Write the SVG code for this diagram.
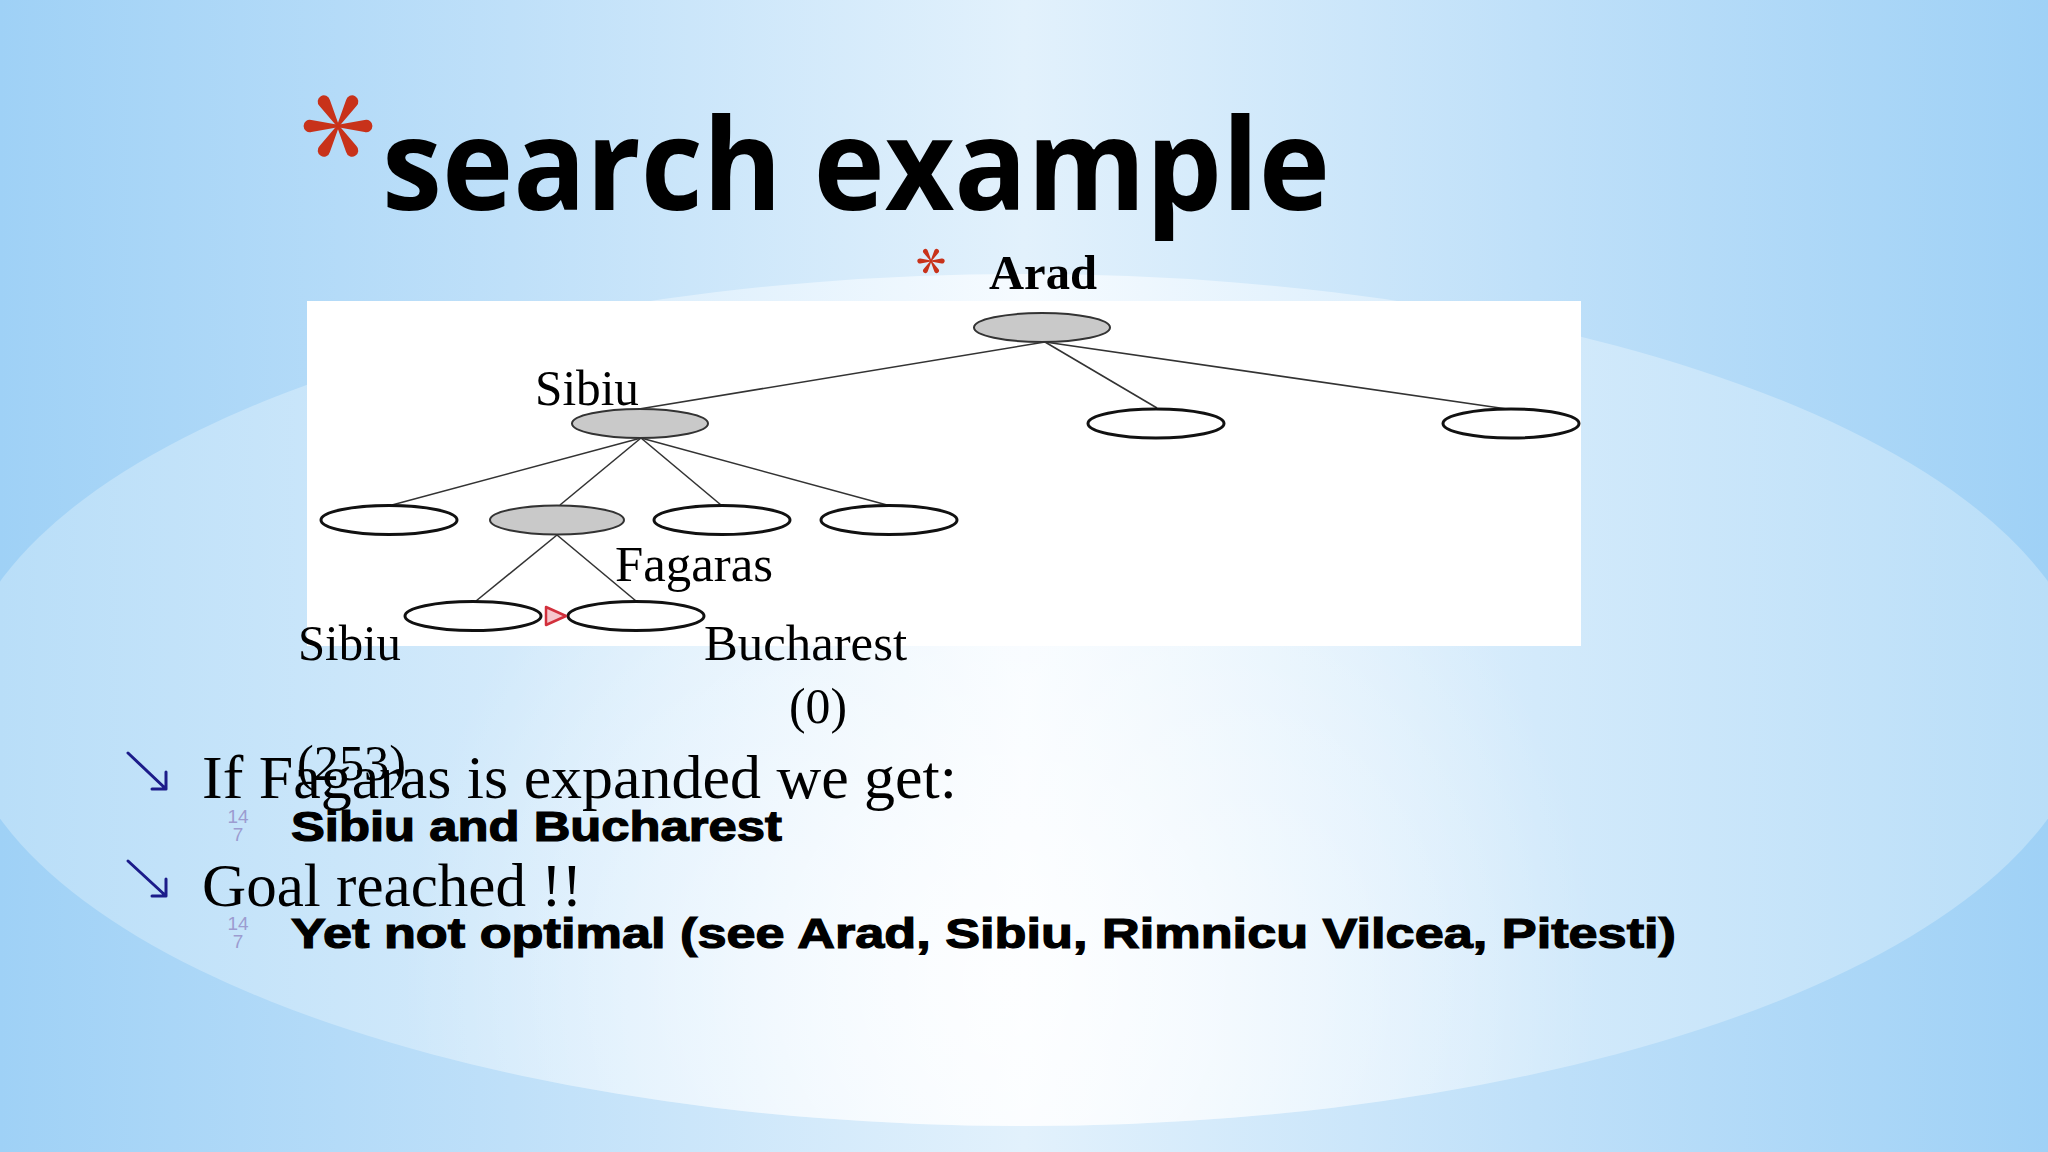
<svg xmlns="http://www.w3.org/2000/svg" width="2048" height="1152" viewBox="0 0 2048 1152">
  <defs>
    <linearGradient id="bg" x1="0" y1="0" x2="2048" y2="0" gradientUnits="userSpaceOnUse">
      <stop offset="0" stop-color="#9fd1f6"/>
      <stop offset="0.25" stop-color="#bfe0f9"/>
      <stop offset="0.5" stop-color="#e2f1fc"/>
      <stop offset="0.75" stop-color="#bfe0f9"/>
      <stop offset="1" stop-color="#9fd1f6"/>
    </linearGradient>
    <linearGradient id="oval" x1="0" y1="0" x2="2048" y2="0" gradientUnits="userSpaceOnUse">
      <stop offset="0" stop-color="#b9def8"/>
      <stop offset="0.25" stop-color="#d3eafb"/>
      <stop offset="0.5" stop-color="#f6fbff"/>
      <stop offset="0.75" stop-color="#d3eafb"/>
      <stop offset="1" stop-color="#b9def8"/>
    </linearGradient>
    <radialGradient id="glow" cx="1000" cy="980" r="600" gradientUnits="userSpaceOnUse">
      <stop offset="0" stop-color="#ffffff" stop-opacity="0.8"/>
      <stop offset="1" stop-color="#ffffff" stop-opacity="0"/>
    </radialGradient>
    <path id="arm" d="M0,-1 L23.5,-5.3 A5.5,5.5 0 1 1 23.5,5.3 L0,1 Z"/>
    <g id="star">
      <use href="#arm"/>
      <use href="#arm" transform="rotate(60)"/>
      <use href="#arm" transform="rotate(120)"/>
      <use href="#arm" transform="rotate(180)"/>
      <use href="#arm" transform="rotate(240)"/>
      <use href="#arm" transform="rotate(300)"/>
    </g>
    <style>
      .serif{font-family:"Liberation Serif","Times New Roman",serif;fill:#000}
      .bold{font-family:"Liberation Sans",Arial,sans-serif;font-weight:bold;fill:#000;stroke:#000;stroke-width:1.2}
      .num{font-family:"Liberation Sans",Arial,sans-serif;font-size:19px;fill:#9c9cd0;text-anchor:middle}
      .edge{stroke:#333;stroke-width:1.6;fill:none}
      .open{fill:#fff;stroke:#111;stroke-width:3}
      .shaded{fill:#c9c9c9;stroke:#333;stroke-width:2}
      .arrow{stroke:#1c1c8a;stroke-width:3;fill:none;stroke-linecap:round;stroke-linejoin:round}
      .red{fill:#c8321a}
    </style>
  </defs>

  <rect x="0" y="0" width="2048" height="1152" fill="url(#bg)"/>
  <ellipse cx="1024" cy="700" rx="1066" ry="426" fill="url(#oval)"/>
  <ellipse cx="1024" cy="700" rx="1066" ry="426" fill="url(#glow)"/>

  <!-- title -->
  <g id="title">
    <use href="#star" class="red" transform="translate(338 126) scale(1.13)"/>
    <text x="382" y="210" font-family="'Open Sans',sans-serif" font-weight="bold" font-size="128" textLength="948" lengthAdjust="spacingAndGlyphs" fill="#000">search example</text>
  </g>

  <g id="arad-label">
    <use href="#star" class="red" transform="translate(931 261) scale(0.45)"/>
    <text x="989" y="289" class="serif" font-weight="bold" font-size="48" textLength="108" lengthAdjust="spacingAndGlyphs">Arad</text>
  </g>

  <!-- white panel -->
  <rect x="307" y="301" width="1274" height="345" fill="#ffffff"/>

  <!-- connectors -->
  <g id="connectors">
    <line class="edge" x1="1045" y1="342" x2="639" y2="409"/>
    <line class="edge" x1="1045" y1="342" x2="1157" y2="408"/>
    <line class="edge" x1="1045" y1="342" x2="1507" y2="409"/>
    <line class="edge" x1="641" y1="438" x2="392" y2="505"/>
    <line class="edge" x1="641" y1="438" x2="560" y2="505"/>
    <line class="edge" x1="641" y1="438" x2="721" y2="505"/>
    <line class="edge" x1="641" y1="438" x2="887" y2="505"/>
    <line class="edge" x1="557" y1="535" x2="476" y2="601"/>
    <line class="edge" x1="557" y1="535" x2="636" y2="601"/>
  </g>

  <g id="node-arad"><ellipse class="shaded" cx="1042" cy="327.5" rx="68" ry="14.5"/></g>
  <g id="node-sibiu"><ellipse class="shaded" cx="640" cy="423.5" rx="68" ry="14.5"/></g>
  <g id="node-a2"><ellipse class="open" cx="1156" cy="423.5" rx="68" ry="14.5"/></g>
  <g id="node-a3"><ellipse class="open" cx="1511" cy="423.5" rx="68" ry="14.5"/></g>
  <g id="node-s1"><ellipse class="open" cx="389" cy="520" rx="68" ry="14.5"/></g>
  <g id="node-fagaras"><ellipse class="shaded" cx="557" cy="520" rx="67" ry="14.5"/></g>
  <g id="node-s3"><ellipse class="open" cx="722" cy="520" rx="68" ry="14.5"/></g>
  <g id="node-s4"><ellipse class="open" cx="889" cy="520" rx="68" ry="14.5"/></g>
  <g id="node-sibiu2"><ellipse class="open" cx="473" cy="616" rx="68" ry="14.5"/></g>
  <g id="node-bucharest"><ellipse class="open" cx="636" cy="616" rx="68" ry="14.5"/></g>

  <g id="marker-triangle">
    <polygon points="546,607 566,616 546,625" fill="#f6c6cc" stroke="#d2303c" stroke-width="2.5" stroke-linejoin="round"/>
  </g>

  <!-- tree labels -->
  <g id="labels">
    <text x="535" y="405" class="serif" font-size="50" textLength="104" lengthAdjust="spacingAndGlyphs">Sibiu</text>
    <text x="615" y="581" class="serif" font-size="50" textLength="158" lengthAdjust="spacingAndGlyphs">Fagaras</text>
    <text x="298" y="660" class="serif" font-size="50" textLength="103" lengthAdjust="spacingAndGlyphs">Sibiu</text>
    <text x="704" y="660" class="serif" font-size="50" textLength="203" lengthAdjust="spacingAndGlyphs">Bucharest</text>
    <text x="789" y="723" class="serif" font-size="50" textLength="58" lengthAdjust="spacingAndGlyphs">(0)</text>
    <text x="297" y="780" class="serif" font-size="50" textLength="109" lengthAdjust="spacingAndGlyphs">(253)</text>
  </g>

  <!-- bullets -->
  <g id="bullet-1">
    <path class="arrow" d="M128 753 L166 789 M166 772 L166 789 L152 789"/>
    <text x="202" y="798" class="serif" font-size="62" textLength="755" lengthAdjust="spacingAndGlyphs">If Fagaras is expanded we get:</text>
    <text x="238" y="823" class="num">14</text>
    <text x="238" y="841" class="num">7</text>
    <text x="291" y="841" class="bold" font-size="42" textLength="491" lengthAdjust="spacingAndGlyphs">Sibiu and Bucharest</text>
  </g>
  <g id="bullet-2">
    <path class="arrow" d="M128 861 L166 896 M166 879 L166 896 L152 896"/>
    <text x="202" y="906" class="serif" font-size="62" textLength="380" lengthAdjust="spacingAndGlyphs">Goal reached !!</text>
    <text x="238" y="930" class="num">14</text>
    <text x="238" y="948" class="num">7</text>
    <text x="291" y="948" class="bold" font-size="42" textLength="1385" lengthAdjust="spacingAndGlyphs">Yet not optimal (see Arad, Sibiu, Rimnicu Vilcea, Pitesti)</text>
  </g>
</svg>
